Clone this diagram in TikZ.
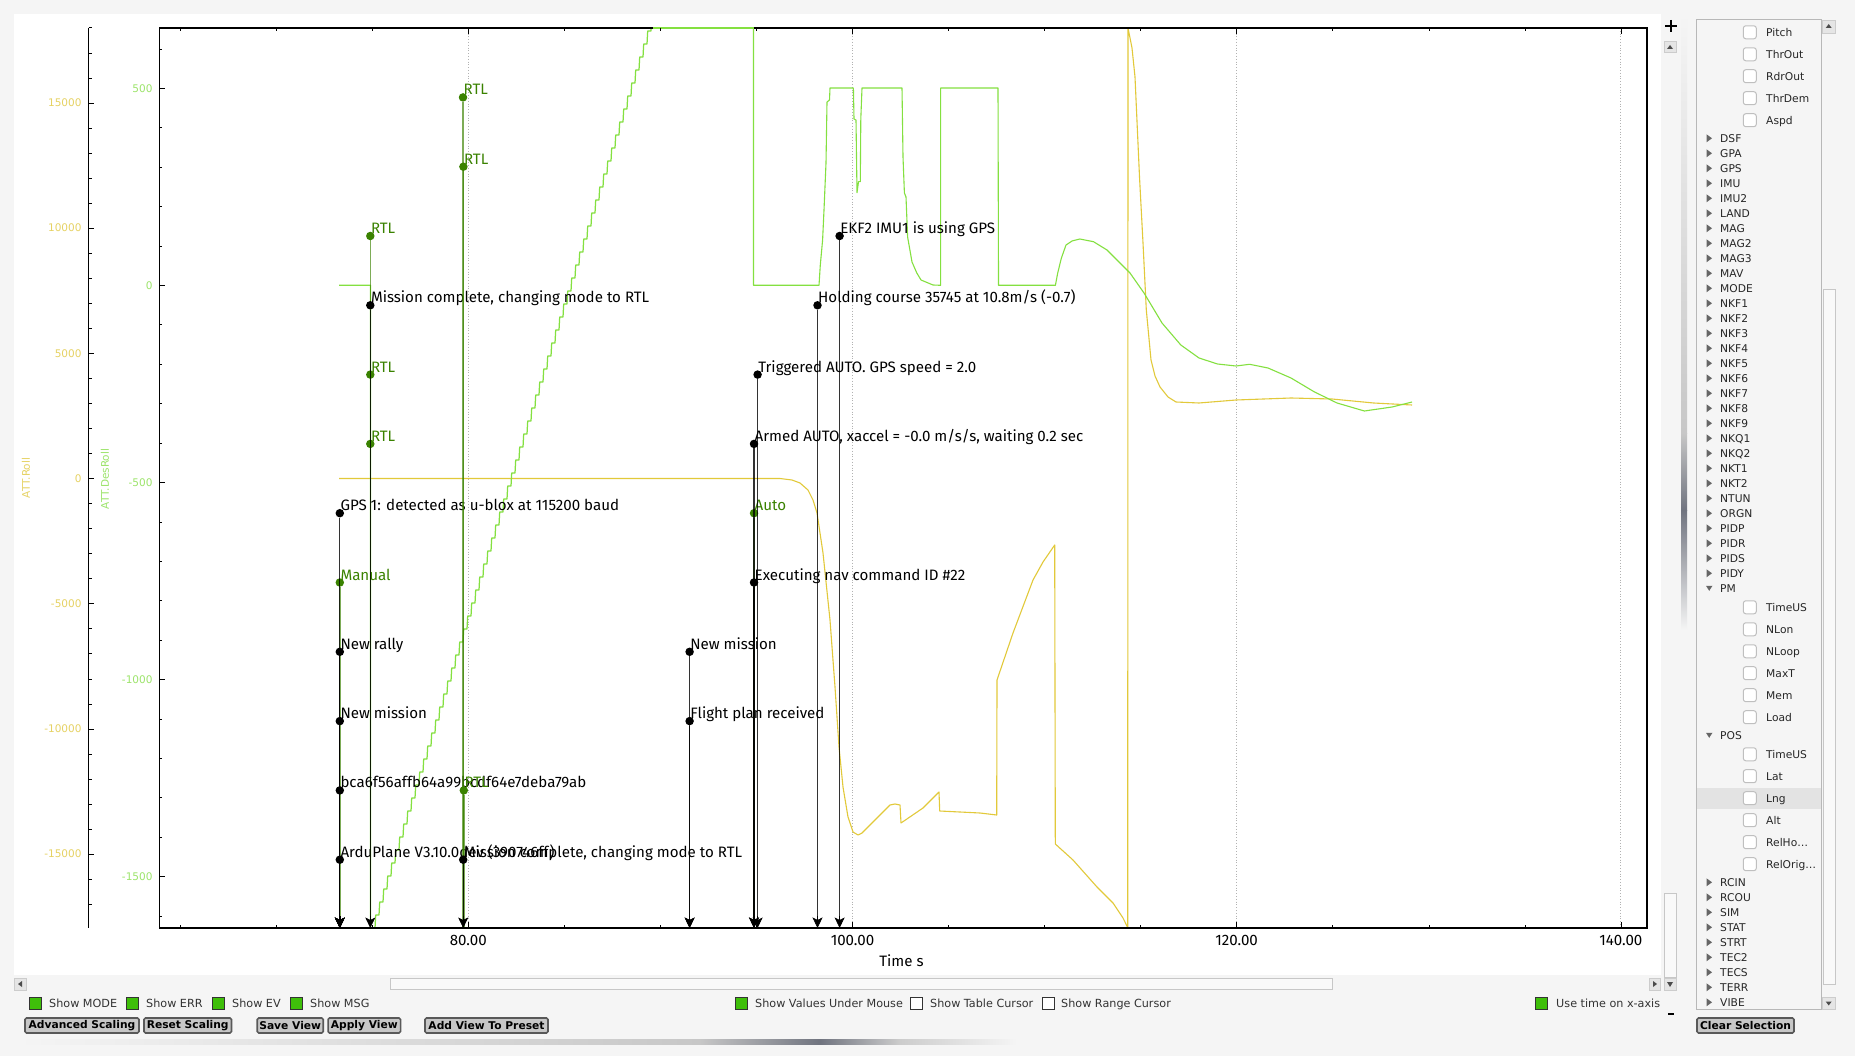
\documentclass[tikz,border=0pt]{standalone}
\usepackage{fontspec}
\setmainfont{DejaVu Sans}
\newfontfamily\msgfont{Fira Sans}
\usetikzlibrary{arrows.meta}
\definecolor{panel}{HTML}{F5F5F5}
\definecolor{rollc}{HTML}{E2C93A}
\definecolor{desc}{HTML}{84E040}
\definecolor{rolltxt}{HTML}{E6D263}
\definecolor{destxt}{HTML}{9CE46A}
\definecolor{modec}{HTML}{3A8200}
\definecolor{boxgreen}{HTML}{3FBF0A}
\definecolor{barslate}{HTML}{70747F}
\tikzset{
	msgdot/.style={circle,fill=black,inner sep=0pt,minimum size=8.5pt},
	modedot/.style={circle,fill=modec,inner sep=0pt,minimum size=8.5pt},
	msgline/.style={draw=black,opacity=0.8,line width=1.3pt},
	modeline/.style={draw=modec,opacity=0.66,line width=1.5pt},
	msgtext/.style={anchor=base west,inner sep=0pt,text=black,font=\msgfont\fontsize{15.1}{17}\selectfont},
	modetext/.style={msgtext,text=modec},
	ticktext/.style={inner sep=0pt,font=\fontsize{10.5}{12}\selectfont},
	treetext/.style={anchor=base west,inner sep=0pt,text=black!85,font=\fontsize{10.7}{12}\selectfont},
	uitext/.style={anchor=base west,inner sep=0pt,text=black!80,font=\fontsize{11.2}{13}\selectfont},
	checkbox/.style={draw=black!25,fill=white,rounded corners=2.5pt,line width=1pt,minimum size=13pt,inner sep=0pt},
	greenbox/.style={draw=black!80,fill=boxgreen,line width=1pt,minimum size=11.5pt,inner sep=0pt},
	whitebox/.style={draw=black!80,fill=white,line width=1pt,minimum size=11.5pt,inner sep=0pt},
	uibutton/.style={draw=black!65,fill=black!22,line width=1.6pt,rounded corners=1.5pt,minimum height=15pt,inner sep=0pt,text=black,font=\bfseries\fontsize{10.7}{12}\selectfont},
	barbutton/.style={draw=black!20,fill=black!10,line width=0.8pt},
	bartrough/.style={draw=black!22,fill=panel!60!white,line width=1pt},
	rollcurve/.style={draw=rollc,line width=1.1pt,line join=round},
	descurve/.style={draw=desc,line width=1.1pt,line join=round},
	arrowtip/.style={-{Stealth[length=10.5pt,width=10pt,inset=2.5pt]}},
}
\newcommand{\evmsg}[4]{
	\node[msgdot] (#1) at (#2,{929-69.3*#3}) {};
	\coordinate (#1end) at (#2,928);
	\coordinate (#1tip) at (#2,916);
	\draw[msgline] (#1) -- (#1end);
	\draw[arrowtip,line width=0.6pt] (#1tip) -- (#1end);
	\node[msgtext] (#1text) at (#2+0.5,{929-69.3*#3-2.5}) {#4};
}
\newcommand{\evmode}[4]{
	\node[modedot] (#1) at (#2,{929-69.3*#3}) {};
	\coordinate (#1end) at (#2,928);
	\draw[modeline] (#1) -- (#1end);
	\node[modetext] (#1text) at (#2+0.5,{929-69.3*#3-2.5}) {#4};
}
\begin{document}
\begin{tikzpicture}[x=1pt,y=-1pt]
	\fill[panel] (0,0) rectangle (1855,1056);
	\fill[white] (14,14) rectangle (1661,975);
	\useasboundingbox (0,0) rectangle (1855,1056);

	\foreach \gx in {468.3,852.5,1236.6,1620.8}
		\draw[black!30,dotted,line width=0.8pt] (\gx,28) -- (\gx,928);

	\begin{scope}
	\clip (159.5,28) rectangle (1647,928);
	\draw[rollcurve] (339,478.5) -- (780,478.5) -- (792,480) -- (800,483) -- (808,490) -- (813,500) -- (817,513) -- (823,553) -- (830,620) -- (835,687) -- (839,747) -- (843,787) -- (848,817) -- (853,832) -- (858,835) -- (862,833) -- (890,805) -- (895,804) -- (900,805) -- (901,823) -- (923,808) -- (939,792) -- (939.7,811) -- (980,813) -- (996.7,815) -- (997,680) -- (1013,633) -- (1033,580) -- (1043,562) -- (1054.7,545) -- (1055.3,844) -- (1073,860) -- (1097,887) -- (1113,903) -- (1123,918) -- (1127.7,927.5) -- (1128,28) -- (1132,48) -- (1135,77) -- (1139.5,177) -- (1143,243) -- (1146.3,310) -- (1151,360) -- (1155,376) -- (1160,387) -- (1168,397) -- (1176,402) -- (1199,403) -- (1236,400) -- (1291,398) -- (1332,399) -- (1373.6,403) -- (1412,405);
	\draw[descurve,line width=1.25pt] (339,285.3) -- (370.5,285.3) -- (370.5,928) -- (375,928) \foreach \i in {1,...,70} {-- ++(0.7,-13) -- ++(3.3,0)};
	\draw[descurve] (753.5,28) -- (753.5,285.3) -- (819,285.3) -- (820.3,265) -- (822.6,240) -- (824,210) -- (826,163) -- (827,102) -- (829.5,100) -- (830,88) -- (853.4,88) -- (854,119) -- (856,120) -- (857,192.7) -- (858.5,181.7) -- (860.3,181.7) -- (860.8,119) -- (862,88) -- (902,88) -- (903,157) -- (904.4,193) -- (906,197) -- (907.6,237) -- (912,262) -- (916.8,273) -- (921,280) -- (933,285) -- (940.6,285.3) -- (940.6,88) -- (998,88) -- (998.5,285.3) -- (1055.4,285.3) -- (1057.7,273) -- (1061.4,258) -- (1066,245) -- (1072,241) -- (1079.8,239) -- (1093.5,241.7) -- (1107,250) -- (1130,273) -- (1144,293) -- (1162,323) -- (1180.8,345) -- (1199,358) -- (1217.5,364) -- (1236,366) -- (1249.6,364.3) -- (1268,368) -- (1291,378) -- (1314,391.7) -- (1337,403) -- (1364.4,411) -- (1392,407) -- (1412,402);
	\end{scope}

	\evmode{modeA}{339.8}{5}{Manual}
	\evmsg{msgA}{339.8}{1}{ArduPlane V3.10.0dev (390746ff)}
	\evmsg{msgB}{339.8}{2}{bca6f56affb64a99bcdf64e7deba79ab}
	\evmsg{msgC}{339.8}{3}{New mission}
	\evmsg{msgD}{339.8}{4}{New rally}
	\evmsg{msgE}{339.8}{6}{GPS 1: detected as u-blox at 115200 baud}
	\evmode{modeB}{370.3}{7}{RTL}
	\evmode{modeC}{370.3}{8}{RTL}
	\evmode{modeD}{370.3}{10}{RTL}
	\evmsg{msgF}{370.3}{9}{Mission complete, changing mode to RTL}
	\evmode{modeE}{463.8}{2}{RTL}
	\evmode{modeF}{463.4}{11}{RTL}
	\evmode{modeG}{463}{12}{RTL}
	\evmsg{msgG}{463.2}{1}{Mission complete, changing mode to RTL}
	\evmsg{msgH}{689.6}{3}{Flight plan received}
	\evmsg{msgI}{689.6}{4}{New mission}
	\evmode{modeH}{754}{6}{Auto}
	\evmsg{msgJ}{754}{5}{Executing nav command ID \#22}
	\evmsg{msgK}{754}{7}{Armed AUTO, xaccel = -0.0 m/s/s, waiting 0.2 sec}
	\evmsg{msgL}{757.6}{8}{Triggered AUTO. GPS speed = 2.0}
	\evmsg{msgM}{817.5}{9}{Holding course 35745 at 10.8m/s (-0.7)}
	\evmsg{msgN}{839.6}{10}{EKF2 IMU1 is using GPS}

	\draw[line width=1.2pt] (159.5,28) rectangle (1647,928);
	\draw[descurve,line width=1.3pt] (653,28) -- (753.5,28);
	\draw[line width=1.2pt] (88.7,28) -- (88.7,928);
	\foreach \j in {-18,...,17}
		\draw (88.7,{478.4+25.04*\j}) -- (91.5,{478.4+25.04*\j});
	\foreach \j in {-6,...,16}
		\draw (159.5,{285.3+39.4*\j}) -- (162,{285.3+39.4*\j});
	\foreach \j in {0,...,15} {
		\draw ({180.3+96.03*\j},28) -- ({180.3+96.03*\j},31);
		\draw ({180.3+96.03*\j},928) -- ({180.3+96.03*\j},925);
	}
	\foreach \gx/\gl [count=\i] in {468.3/80.00,852.5/100.00,1236.6/120.00,1620.8/140.00} {
		\draw (\gx,28) -- (\gx,34);
		\draw (\gx,928) -- (\gx,922);
		\node[msgtext,anchor=center] (xval\i) at (\gx,940) {\gl};
	}
	\foreach \j/\jl in {-15/15000,-10/10000,-5/5000,0/0,5/-5000,10/-10000,15/-15000} {
		\draw (88.7,{478.4+25.04*\j}) -- (94,{478.4+25.04*\j});
		\node[ticktext,anchor=east,text=rolltxt] (roll\jl) at (81.7,{478.4+25.04*\j}) {\jl};
	}
	\foreach \j/\jl in {-5/500,0/0,5/-500,10/-1000,15/-1500} {
		\draw (159.5,{285.3+39.4*\j}) -- (165,{285.3+39.4*\j});
		\node[ticktext,anchor=east,text=destxt] (des\jl) at (152.7,{285.3+39.4*\j}) {\jl};
	}
	\node[ticktext,rotate=90,text=rolltxt] (rollname) at (26,478) {ATT.Roll};
	\node[ticktext,rotate=90,text=destxt] (desname) at (105,479) {ATT.DesRoll};
	\node[msgtext,anchor=center] (xname) at (901.5,960.5) {Time s};

	\shade[left color=panel,right color=black!22] (18,1039) rectangle (700,1044);
	\shade[left color=black!22,right color=barslate] (700,1039) rectangle (820,1044);
	\shade[left color=barslate,right color=black!20] (820,1039) rectangle (900,1044);
	\shade[left color=black!20,right color=panel] (900,1039) rectangle (1017,1044);
	\shade[top color=panel,bottom color=black!22] (1681,14) rectangle (1687,433);
	\shade[top color=black!22,bottom color=barslate] (1681,433) rectangle (1687,510);
	\shade[top color=barslate,bottom color=panel] (1681,510) rectangle (1687,630);

	\draw[bartrough] (390,978) rectangle (1332,989);
	\draw[barbutton] (14,978) rectangle (26,990);
	\draw[barbutton] (1649,978) rectangle (1660.5,990);
	\draw[barbutton] (1664,978) rectangle (1676,990);
	\draw[bartrough] (1664,893) rectangle (1676,977);
	\draw[barbutton] (1664,41) rectangle (1676,52);
	\fill[black!70] (18,984) -- (22,981) -- (22,987) -- cycle;
	\fill[black!70] (1657,984) -- (1653,981) -- (1653,987) -- cycle;
	\fill[black!70] (1670,987) -- (1667,982) -- (1673,982) -- cycle;
	\fill[black!70] (1670,45) -- (1667,49) -- (1673,49) -- cycle;
	\draw[line width=2pt] (1671,20) -- (1671,32) (1665,26) -- (1677,26);
	\draw[line width=2pt] (1668,1013.5) -- (1674,1013.5);

	\foreach \bx/\tx/\lab in {29/49/Show MODE,126/146/Show ERR,212/232/Show EV,290/310/Show MSG,735/755/Show Values Under Mouse,1535/1556/Use time on x-axis} {
		\node[greenbox,anchor=west] (box\bx) at (\bx,1003.3) {};
		\node[uitext] (lab\bx) at (\tx,1007.3) {\lab};
	}
	\foreach \bx/\tx/\lab in {910/930/Show Table Cursor,1042/1061/Show Range Cursor} {
		\node[whitebox,anchor=west] (box\bx) at (\bx,1003.3) {};
		\node[uitext] (lab\bx) at (\tx,1007.3) {\lab};
	}
	\node[uibutton,minimum width=114pt] (advbtn) at (82,1025.5) {Advanced Scaling};
	\node[uibutton,minimum width=87.5pt] (resetbtn) at (187.7,1025.5) {Reset Scaling};
	\node[uibutton,minimum width=66pt] (savebtn) at (290.2,1025.5) {Save View};
	\node[uibutton,minimum width=72.5pt] (applybtn) at (364.3,1025.5) {Apply View};
	\node[uibutton,minimum width=123pt] (presetbtn) at (486.5,1025.5) {Add View To Preset};
	\node[uibutton,minimum width=97pt] (clearbtn) at (1745.5,1025.5) {Clear Selection};

	\draw[draw=black!28,fill=panel,line width=1pt] (1696,20) rectangle (1821.7,1009.5);
	\fill[black!11] (1696.7,787.7) rectangle (1821,808.7);
	\draw[bartrough] (1823,290) rectangle (1835,984);
	\draw[barbutton] (1822.5,20) rectangle (1835,33);
	\draw[barbutton] (1822.5,997.5) rectangle (1835,1009.5);
	\fill[black!70] (1828.7,24) -- (1825.7,28) -- (1831.7,28) -- cycle;
	\fill[black!70] (1828.7,1005.5) -- (1825.7,1001.5) -- (1831.7,1001.5) -- cycle;

	\foreach \lab/\rowy [count=\i] in {Pitch/32.3,ThrOut/54.3,RdrOut/76.2,ThrDem/98.2,Aspd/120.2,TimeUS/607.3,NLon/629.3,NLoop/651.3,MaxT/673.2,Mem/695.2,Load/717.2,TimeUS/754.3,Lat/776.2,Lng/798.2,Alt/820.2,RelHo\textellipsis/842.2,RelOrig\textellipsis/864.2} {
		\node[checkbox] (chk\i) at (1749.8,\rowy) {};
		\node[treetext] (chklab\i) at (1766,\rowy+4) {\lab};
	}
	\foreach \lab [count=\i] in {DSF,GPA,GPS,IMU,IMU2,LAND,MAG,MAG2,MAG3,MAV,MODE,NKF1,NKF2,NKF3,NKF4,NKF5,NKF6,NKF7,NKF8,NKF9,NKQ1,NKQ2,NKT1,NKT2,NTUN,ORGN,PIDP,PIDR,PIDS,PIDY} {
		\node[treetext] (grp\i) at (1720,{127.3+15*\i}) {\lab};
		\fill[black!60] (1706.5,{119.3+15*\i}) -- (1712,{123.3+15*\i}) -- (1706.5,{127.3+15*\i}) -- cycle;
	}
	\foreach \lab [count=\i] in {RCIN,RCOU,SIM,STAT,STRT,TEC2,TECS,TERR,VIBE} {
		\node[treetext] (grpb\i) at (1720,{871.3+15*\i}) {\lab};
		\fill[black!60] (1706.5,{863.3+15*\i}) -- (1712,{867.3+15*\i}) -- (1706.5,{871.3+15*\i}) -- cycle;
	}
	\foreach \lab/\rowy in {PM/588.3,POS/735.3} {
		\node[treetext] (grp\lab) at (1720,\rowy+4) {\lab};
		\fill[black!60] (1706,\rowy-2.5) -- (1712.5,\rowy-2.5) -- (1709.2,\rowy+2.5) -- cycle;
	}
\end{tikzpicture}
\end{document}
